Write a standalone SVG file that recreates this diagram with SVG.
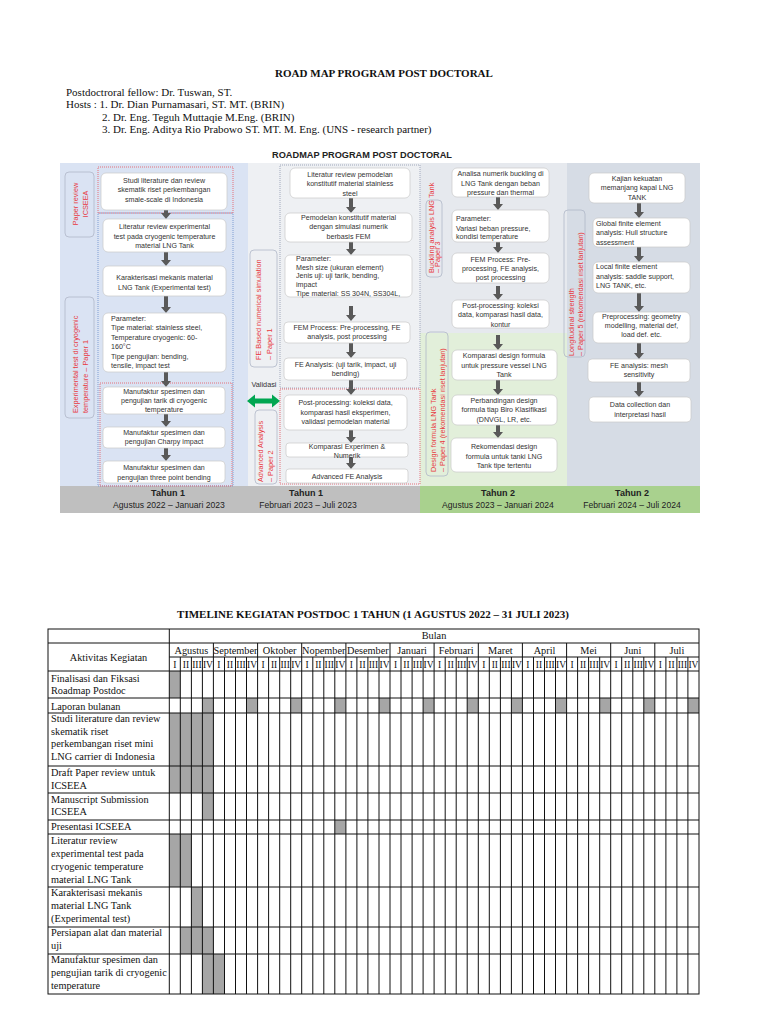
<svg xmlns="http://www.w3.org/2000/svg" width="768" height="1024" viewBox="0 0 768 1024">
<style>
.h{font-family:"Liberation Serif","Times New Roman",serif;font-size:11px;fill:#111}
.hb{font-weight:bold}
.bx{fill:#fff;stroke:#c8c8c8;stroke-width:0.7}
.t{font-family:"Liberation Sans",Arial,sans-serif;font-size:7.1px;fill:#333;text-anchor:middle}
.tl{text-anchor:start}
.lb{fill:none;stroke:#b0b8c8;stroke-width:0.8}
.lt{font-family:"Liberation Sans",Arial,sans-serif;font-size:7.3px;fill:#e8383d}
.ar{fill:#595959}
.rd{fill:none;stroke:#e4707a;stroke-width:1;stroke-dasharray:1 1}
.bd{fill:none;stroke:#7f9dd2;stroke-width:1;stroke-dasharray:1 1}
.gd{fill:none;stroke:#a0a8bc;stroke-width:1;stroke-dasharray:1 1}
.yr{font-family:"Liberation Sans",Arial,sans-serif;fill:#222;text-anchor:middle;font-size:8.6px}
.yb{font-weight:bold;font-size:9px}
.tb{font-family:"Liberation Serif","Times New Roman",serif;font-size:10.3px;fill:#111}
.wk{font-size:9.5px;text-anchor:middle}
.mc{text-anchor:middle}
.sh{fill:#a6a6a6}
.gl{stroke:#111;stroke-width:1;fill:none}
</style>

<!-- Header -->
<text class="h hb" x="384" y="77" text-anchor="middle">ROAD MAP PROGRAM POST DOCTORAL</text>
<text class="h" x="66" y="96">Postdoctroral fellow: Dr. Tuswan, ST.</text>
<text class="h" x="66" y="108">Hosts : 1. Dr. Dian Purnamasari, ST. MT. (BRIN)</text>
<text class="h" x="102" y="120.5">2. Dr. Eng. Teguh Muttaqie M.Eng. (BRIN)</text>
<text class="h" x="102" y="133">3. Dr. Eng. Aditya Rio Prabowo ST. MT. M. Eng. (UNS - research partner)</text>

<!-- Roadmap backgrounds -->
<g id="roadmap-bg">
<rect x="60" y="163" width="188" height="323" fill="#dae3f3"/>
<rect x="248" y="163" width="172" height="323" fill="#eef0f3"/>
<rect x="420" y="163" width="147" height="170" fill="#e6e9ee"/>
<rect x="420" y="333" width="147" height="153" fill="#e2efda"/>
<rect x="567" y="163" width="133" height="323" fill="#d6dce5"/>
<rect x="60" y="486" width="360" height="27" fill="#bfbfbf"/>
<rect x="420" y="486" width="280" height="27" fill="#a9d18e"/>
</g>
<text x="362" y="158" text-anchor="middle" font-family="Liberation Sans,Arial,sans-serif" font-size="9.2" font-weight="bold" fill="#222">ROADMAP PROGRAM POST DOCTORAL</text>

<!-- Group frames -->
<g id="frames">
<rect class="bd" x="98" y="213" width="135" height="273"/>
<rect class="rd" x="98" y="167" width="135" height="46"/>
<rect class="rd" x="100" y="383" width="132" height="103"/>
<rect class="gd" x="280" y="165" width="140" height="223"/>
<rect class="rd" x="280" y="389" width="140" height="95"/>
</g>

<!-- Side labels -->
<g id="lbl-paper-review"><rect class="lb" x="65" y="172" width="29" height="65" rx="4"/>
<text class="lt" text-anchor="middle" transform="translate(77.5,204) rotate(-90)"><tspan x="0" y="0">Paper review</tspan><tspan x="0" y="10">ICSEEA</tspan></text></g>
<g id="lbl-experimental"><rect class="lb" x="65" y="297" width="29" height="121" rx="4"/>
<text class="lt" transform="translate(77.5,413) rotate(-90)"><tspan x="0" y="0">Experimental test di cryogenic</tspan><tspan x="0" y="10">temperature – Paper 1</tspan></text></g>
<g id="lbl-fe-based"><rect class="lb" x="250" y="250" width="27" height="117" rx="4"/>
<text class="lt" transform="translate(260.5,360) rotate(-90)"><tspan x="0" y="0">FE Based numerical simulation</tspan><tspan x="0" y="11">– Paper 1</tspan></text></g>
<g id="lbl-advanced"><rect class="lb" x="255" y="410" width="22" height="74" rx="4"/>
<text class="lt" transform="translate(262.5,482) rotate(-90)"><tspan x="0" y="0">Advanced Analysis</tspan><tspan x="0" y="10">– Paper 2</tspan></text></g>
<g id="lbl-buckling"><rect class="lb" x="426" y="200" width="16" height="77" rx="4"/>
<text class="lt" font-size="5.6" transform="translate(433.5,273) rotate(-90)"><tspan x="0" y="0">Buckling analysis LNG Tank</tspan><tspan x="0" y="6.5">– Paper 3</tspan></text></g>
<g id="lbl-design"><rect class="lb" x="426" y="332" width="22" height="144" rx="4"/>
<text class="lt" font-size="6.8" transform="translate(435.5,472) rotate(-90)"><tspan x="0" y="0">Design formula LNG Tank</tspan><tspan x="0" y="9">– Paper 4 (rekomendasi riset lanjutan)</tspan></text></g>
<g id="lbl-longitudinal"><rect class="lb" x="564" y="210" width="21" height="147" rx="4"/>
<text class="lt" font-size="7" transform="translate(574,356) rotate(-90)"><tspan x="0" y="0">Longitudinal strength</tspan><tspan x="0" y="8.5">– Paper 5 (rekomendasi riset lanjutan)</tspan></text></g>

<!-- Connectors -->
<g id="connectors">
<path class="ar" d="M164,210H168V213H171L166,219L161,213H164Z"/>
<path class="ar" d="M164,252H168V260H171L166,266L161,260H164Z"/>
<path class="ar" d="M164,296H168V307H171L166,313L161,307H164Z"/>
<path class="ar" d="M164,372H168V381H171L166,387L161,381H164Z"/>
<path class="ar" d="M164,414H168V421H171L166,427L161,421H164Z"/>
<path class="ar" d="M164,448H168V455H171L166,461L161,455H164Z"/>
<path class="ar" d="M349,198H353V207H356L351,213L346,207H349Z"/>
<path class="ar" d="M349,242H353V249H356L351,255L346,249H349Z"/>
<path class="ar" d="M349,306H353V315H356L351,321L346,315H349Z"/>
<path class="ar" d="M349,343H353V352H356L351,358L346,352H349Z"/>
<path class="ar" d="M349,380H353V389H356L351,395L346,389H349Z"/>
<path class="ar" d="M349,430H353V437H356L351,443L346,437H349Z"/>
<path class="ar" d="M349,457H353V463H356L351,469L346,463H349Z"/>
<path class="ar" d="M496,197H500V204H503L498,210L493,204H496Z"/>
<path class="ar" d="M496,242H500V247H503L498,253L493,247H496Z"/>
<path class="ar" d="M496,286H500V294H503L498,300L493,294H496Z"/>
<path class="ar" d="M496,335H500V344H503L498,350L493,344H496Z"/>
<path class="ar" d="M496,380H500V389H503L498,395L493,389H496Z"/>
<path class="ar" d="M496,425H500V432H503L498,438L493,432H496Z"/>
<path class="ar" d="M637,203H641V212H644L639,218L634,212H637Z"/>
<path class="ar" d="M637,247H641V256H644L639,262L634,256H637Z"/>
<path class="ar" d="M637,293H641V306H644L639,312L634,306H637Z"/>
<path class="ar" d="M637,343H641V353H644L639,359L634,353H637Z"/>
<path class="ar" d="M637,382H641V391H644L639,397L634,391H637Z"/>
<path d="M247,401L255,394.5V398.5H272V394.5L280,401L272,407.5V403.5H255V407.5Z" fill="#00a651"/>
<text x="264" y="387" text-anchor="middle" font-family="Liberation Sans,Arial,sans-serif" font-size="7.3" fill="#333">Validasi</text>
</g>

<!-- Column 1 nodes -->
<g id="c1b1"><rect class="bx" x="101" y="173" width="126" height="37" rx="5"/><text class="t"><tspan x="164" y="182.5">Studi literature dan review</tspan><tspan x="164" y="192">skematik riset perkembangan</tspan><tspan x="164" y="201.5">smale-scale di Indonesia</tspan></text></g>
<g id="c1b2"><rect class="bx" x="103" y="219" width="123" height="33" rx="5"/><text class="t"><tspan x="164.5" y="229">Literatur review experimental</tspan><tspan x="164.5" y="238.5">test pada cryogenic temperature</tspan><tspan x="164.5" y="248">material LNG Tank</tspan></text></g>
<g id="c1b3"><rect class="bx" x="103" y="266" width="123" height="30" rx="5"/><text class="t"><tspan x="164.5" y="280">Karakterisasi mekanis material</tspan><tspan x="164.5" y="289.5">LNG Tank (Experimental test)</tspan></text></g>
<g id="c1b4"><rect class="bx" x="103" y="313" width="123" height="59" rx="5"/><text class="t tl"><tspan x="111" y="320.5">Parameter:</tspan><tspan x="111" y="330">Tipe material: stainless steel,</tspan><tspan x="111" y="339.5">Temperature cryogenic: 60-</tspan><tspan x="111" y="349">160°C</tspan><tspan x="111" y="358.5">Tipe pengujian: bending,</tspan><tspan x="111" y="368">tensile, impact test</tspan></text></g>
<g id="c1b5"><rect class="bx" x="103" y="387" width="122" height="27" rx="4"/><text class="t"><tspan x="164" y="394">Manufaktur spesimen dan</tspan><tspan x="164" y="403">pengujian tarik di cryogenic</tspan><tspan x="164" y="412">temperature</tspan></text></g>
<g id="c1b6"><rect class="bx" x="103" y="427" width="122" height="21" rx="4"/><text class="t"><tspan x="164" y="434.5">Manufaktur spesimen dan</tspan><tspan x="164" y="444">pengujian Charpy impact</tspan></text></g>
<g id="c1b7"><rect class="bx" x="103" y="461" width="122" height="22" rx="4"/><text class="t"><tspan x="164" y="470">Manufaktur spesimen dan</tspan><tspan x="164" y="479.5">pengujian three point bending</tspan></text></g>

<!-- Column 2 nodes -->
<g id="c2b1"><rect class="bx" x="290" y="168" width="120" height="30" rx="5"/><text class="t"><tspan x="350" y="176.5">Literatur review pemodelan</tspan><tspan x="350" y="186">konstitutif material stainless</tspan><tspan x="350" y="195.5">steel</tspan></text></g>
<g id="c2b2"><rect class="bx" x="285" y="213" width="127" height="29" rx="5"/><text class="t"><tspan x="348.5" y="219.5">Pemodelan konstitutif material</tspan><tspan x="348.5" y="229">dengan simulasi numerik</tspan><tspan x="348.5" y="238.5">berbasis FEM</tspan></text></g>
<g id="c2b3"><rect class="bx" x="285" y="255" width="127" height="42" rx="5"/><text class="t tl"><tspan x="296" y="261">Parameter:</tspan><tspan x="296" y="269.5">Mesh size (ukuran element)</tspan><tspan x="296" y="278">Jenis uji: uji tarik, bending,</tspan><tspan x="296" y="287">impact</tspan><tspan x="296" y="295.5">Tipe material: SS 304N, SS304L,</tspan></text></g>
<g id="c2b4"><rect class="bx" x="284" y="322" width="126" height="21" rx="4"/><text class="t"><tspan x="347" y="329.5">FEM Process: Pre-processing, FE</tspan><tspan x="347" y="339">analysis, post processing</tspan></text></g>
<g id="c2b5"><rect class="bx" x="284" y="358" width="123" height="22" rx="4"/><text class="t"><tspan x="345.5" y="367">FE Analysis: (uji tarik, impact, uji</tspan><tspan x="345.5" y="376">bending)</tspan></text></g>
<g id="c2b6"><rect class="bx" x="284" y="395" width="123" height="35" rx="5"/><text class="t"><tspan x="345.5" y="405">Post-processing: koleksi data,</tspan><tspan x="345.5" y="414.5">komparasi hasil eksperimen,</tspan><tspan x="345.5" y="424">validasi pemodelan material</tspan></text></g>
<g id="c2b7"><rect class="bx" x="286" y="443" width="122" height="14" rx="3"/><text class="t"><tspan x="347" y="448.5">Komparasi Experimen &amp;</tspan><tspan x="347" y="457.5">Numerik</tspan></text></g>
<g id="c2b8"><rect class="bx" x="286" y="469" width="122" height="14" rx="3"/><text class="t" x="347" y="479">Advanced FE Analysis</text></g>

<!-- Column 3 nodes -->
<g id="c3b1"><rect class="bx" x="452" y="168" width="97" height="29" rx="5"/><text class="t"><tspan x="500.5" y="175.5">Analisa numerik buckling di</tspan><tspan x="500.5" y="185.5">LNG Tank dengan beban</tspan><tspan x="500.5" y="195">pressure dan thermal</tspan></text></g>
<g id="c3b2"><rect class="bx" x="452" y="210" width="97" height="32" rx="5"/><text class="t tl"><tspan x="456" y="221">Parameter:</tspan><tspan x="456" y="230.5">Variasi beban pressure,</tspan><tspan x="456" y="239">kondisi temperature</tspan></text></g>
<g id="c3b3"><rect class="bx" x="452" y="253" width="97" height="30" rx="5"/><text class="t"><tspan x="500.5" y="261.5">FEM Process: Pre-</tspan><tspan x="500.5" y="270.5">processing, FE analysis,</tspan><tspan x="500.5" y="280">post processing</tspan></text></g>
<g id="c3b4"><rect class="bx" x="452" y="300" width="97" height="28" rx="5"/><text class="t"><tspan x="500.5" y="307.5">Post-processing: koleksi</tspan><tspan x="500.5" y="317">data, komparasi hasil data,</tspan><tspan x="500.5" y="326.5">kontur</tspan></text></g>
<g id="c3b5"><rect class="bx" x="452" y="350" width="105" height="30" rx="5"/><text class="t"><tspan x="504" y="358">Komparasi design formula</tspan><tspan x="504" y="367.5">untuk pressure vessel LNG</tspan><tspan x="504" y="377">Tank</tspan></text></g>
<g id="c3b6"><rect class="bx" x="452" y="395" width="105" height="30" rx="5"/><text class="t"><tspan x="504" y="402.5">Perbandingan design</tspan><tspan x="504" y="412">formula tiap Biro Klasifikasi</tspan><tspan x="504" y="421.5">(DNVGL, LR, etc.</tspan></text></g>
<g id="c3b7"><rect class="bx" x="451" y="438" width="106" height="34" rx="5"/><text class="t"><tspan x="504" y="449">Rekomendasi design</tspan><tspan x="504" y="458.5">formula untuk tanki LNG</tspan><tspan x="504" y="468">Tank tipe tertentu</tspan></text></g>

<!-- Column 4 nodes -->
<g id="c4b1"><rect class="bx" x="589" y="173" width="96" height="30" rx="5"/><text class="t"><tspan x="637" y="180.5">Kajian kekuatan</tspan><tspan x="637" y="190">memanjang kapal LNG</tspan><tspan x="637" y="199.5">TANK</tspan></text></g>
<g id="c4b2"><rect class="bx" x="593" y="218" width="97" height="29" rx="5"/><text class="t tl"><tspan x="596" y="225.5">Global finite element</tspan><tspan x="596" y="235">analysis: Hull structure</tspan><tspan x="596" y="244.5">assessment</tspan></text></g>
<g id="c4b3"><rect class="bx" x="593" y="262" width="97" height="31" rx="5"/><text class="t tl"><tspan x="596" y="269">Local finite element</tspan><tspan x="596" y="278.5">analysis: saddle support,</tspan><tspan x="596" y="287.5">LNG TANK, etc.</tspan></text></g>
<g id="c4b4"><rect class="bx" x="593" y="312" width="97" height="31" rx="5"/><text class="t"><tspan x="641.5" y="318.5">Preprocessing: geometry</tspan><tspan x="641.5" y="327.5">modelling, material def,</tspan><tspan x="641.5" y="336.5">load def. etc.</tspan></text></g>
<g id="c4b5"><rect class="bx" x="588" y="359" width="102" height="23" rx="4"/><text class="t"><tspan x="639" y="367.5">FE analysis: mesh</tspan><tspan x="639" y="376.5">sensitivity</tspan></text></g>
<g id="c4b6"><rect class="bx" x="589" y="397" width="102" height="25" rx="4"/><text class="t"><tspan x="640" y="406.5">Data collection dan</tspan><tspan x="640" y="416.5">interpretasi hasil</tspan></text></g>

<!-- Period bar -->
<g id="periods">
<text class="yr yb" x="168" y="495.5">Tahun 1</text><text class="yr" x="169" y="507.5">Agustus 2022 – Januari 2023</text>
<text class="yr yb" x="306" y="495.5">Tahun 1</text><text class="yr" x="308" y="507.5">Februari 2023 – Juli 2023</text>
<text class="yr yb" x="498" y="495.5">Tahun 2</text><text class="yr" x="498" y="507.5">Agustus 2023 – Januari 2024</text>
<text class="yr yb" x="632" y="495.5">Tahun 2</text><text class="yr" x="632" y="507.5">Februari 2024 – Juli 2024</text>
</g>

<!-- Timeline table -->
<text class="h hb" x="373" y="618" text-anchor="middle" font-size="10.2">TIMELINE KEGIATAN POSTDOC 1 TAHUN (1 AGUSTUS 2022 – 31 JULI 2023)</text>
<g id="shading">
<rect class="sh" x="169.3" y="671" width="11" height="27"/>
<rect class="sh" x="202.4" y="698" width="11" height="15"/>
<rect class="sh" x="246.5" y="698" width="11" height="15"/>
<rect class="sh" x="290.7" y="698" width="11" height="15"/>
<rect class="sh" x="334.8" y="698" width="11" height="15"/>
<rect class="sh" x="379" y="698" width="11" height="15"/>
<rect class="sh" x="423.1" y="698" width="11" height="15"/>
<rect class="sh" x="467.2" y="698" width="11" height="15"/>
<rect class="sh" x="511.4" y="698" width="11" height="15"/>
<rect class="sh" x="555.5" y="698" width="11" height="15"/>
<rect class="sh" x="599.7" y="698" width="11" height="15"/>
<rect class="sh" x="643.8" y="698" width="11" height="15"/>
<rect class="sh" x="687.9" y="698" width="11.1" height="15"/>
<rect class="sh" x="169.3" y="713" width="44.1" height="53"/>
<rect class="sh" x="169.3" y="766" width="44.1" height="27"/>
<rect class="sh" x="202.4" y="793" width="11" height="27"/>
<rect class="sh" x="334.8" y="820" width="11" height="14"/>
<rect class="sh" x="169.3" y="834" width="22.1" height="53"/>
<rect class="sh" x="191.4" y="887" width="11" height="40"/>
<rect class="sh" x="180.3" y="927" width="33.1" height="27"/>
<rect class="sh" x="202.4" y="954" width="22.1" height="40"/>
</g>
<g id="grid">
<rect class="gl" x="48" y="629" width="651" height="365"/>
<path class="gl" d="M169.3 629V994M48 643H699M169.3 657H699M48 671H699M48 698H699M48 713H699M48 766H699M48 793H699M48 820H699M48 834H699M48 887H699M48 927H699M48 954H699"/>
<path class="gl" d="M213.4 643V657M257.6 643V657M301.7 643V657M345.9 643V657M390 643V657M434.1 643V657M478.3 643V657M522.4 643V657M566.6 643V657M610.7 643V657M654.8 643V657"/>
<path class="gl" d="M180.3 657V994M191.4 657V994M202.4 657V994M213.4 657V994M224.5 657V994M235.5 657V994M246.5 657V994M257.6 657V994M268.6 657V994M279.7 657V994M290.7 657V994M301.7 657V994M312.8 657V994M323.8 657V994M334.8 657V994M345.9 657V994M356.9 657V994M367.9 657V994M379 657V994M390 657V994M401 657V994M412.1 657V994M423.1 657V994M434.1 657V994M445.2 657V994M456.2 657V994M467.2 657V994M478.3 657V994M489.3 657V994M500.4 657V994M511.4 657V994M522.4 657V994M533.5 657V994M544.5 657V994M555.5 657V994M566.6 657V994M577.6 657V994M588.6 657V994M599.7 657V994M610.7 657V994M621.7 657V994M632.8 657V994M643.8 657V994M654.8 657V994M665.9 657V994M676.9 657V994M687.9 657V994"/>
</g>
<g id="table-head">
<text class="tb mc" x="434" y="639">Bulan</text>
<text class="tb mc" x="108.5" y="661">Aktivitas Kegiatan</text>
<text class="tb mc" y="654"><tspan x="191.4">Agustus</tspan><tspan x="235.5">September</tspan><tspan x="279.7">Oktober</tspan><tspan x="323.8">Nopember</tspan><tspan x="367.9">Desember</tspan><tspan x="412.1">Januari</tspan><tspan x="456.2">Februari</tspan><tspan x="500.4">Maret</tspan><tspan x="544.5">April</tspan><tspan x="588.6">Mei</tspan><tspan x="632.8">Juni</tspan><tspan x="676.9">Juli</tspan></text>
<text class="tb wk" y="667.5"><tspan x="174.8">I</tspan><tspan x="185.9">II</tspan><tspan x="196.9">III</tspan><tspan x="207.9">IV</tspan><tspan x="218.9">I</tspan><tspan x="230">II</tspan><tspan x="241">III</tspan><tspan x="252.1">IV</tspan><tspan x="263.1">I</tspan><tspan x="274.1">II</tspan><tspan x="285.2">III</tspan><tspan x="296.2">IV</tspan><tspan x="307.2">I</tspan><tspan x="318.3">II</tspan><tspan x="329.3">III</tspan><tspan x="340.3">IV</tspan><tspan x="351.4">I</tspan><tspan x="362.4">II</tspan><tspan x="373.4">III</tspan><tspan x="384.5">IV</tspan><tspan x="395.5">I</tspan><tspan x="406.5">II</tspan><tspan x="417.6">III</tspan><tspan x="428.6">IV</tspan><tspan x="439.6">I</tspan><tspan x="450.7">II</tspan><tspan x="461.7">III</tspan><tspan x="472.7">IV</tspan><tspan x="483.8">I</tspan><tspan x="494.8">II</tspan><tspan x="505.9">III</tspan><tspan x="516.9">IV</tspan><tspan x="527.9">I</tspan><tspan x="539">II</tspan><tspan x="550">III</tspan><tspan x="561">IV</tspan><tspan x="572.1">I</tspan><tspan x="583.1">II</tspan><tspan x="594.1">III</tspan><tspan x="605.2">IV</tspan><tspan x="616.2">I</tspan><tspan x="627.2">II</tspan><tspan x="638.3">III</tspan><tspan x="649.3">IV</tspan><tspan x="660.3">I</tspan><tspan x="671.4">II</tspan><tspan x="682.4">III</tspan><tspan x="693.4">IV</tspan></text>
</g>
<g id="table-rows">
<text class="tb"><tspan x="51" y="681.5">Finalisasi dan Fiksasi</tspan><tspan x="51" y="694">Roadmap Postdoc</tspan></text>
<text class="tb" x="51" y="709.5">Laporan bulanan</text>
<text class="tb"><tspan x="51" y="721.5">Studi literature dan review</tspan><tspan x="51" y="734.5">skematik riset</tspan><tspan x="51" y="747">perkembangan riset mini</tspan><tspan x="51" y="760">LNG carrier di Indonesia</tspan></text>
<text class="tb"><tspan x="51" y="776">Draft Paper review untuk</tspan><tspan x="51" y="788.5">ICSEEA</tspan></text>
<text class="tb"><tspan x="51" y="802.5">Manuscript Submission</tspan><tspan x="51" y="815">ICSEEA</tspan></text>
<text class="tb" x="51" y="829.5">Presentasi ICSEEA</text>
<text class="tb"><tspan x="51" y="844">Literatur review</tspan><tspan x="51" y="857">experimental test pada</tspan><tspan x="51" y="870">cryogenic temperature</tspan><tspan x="51" y="883">material LNG Tank</tspan></text>
<text class="tb"><tspan x="51" y="896">Karakterisasi mekanis</tspan><tspan x="51" y="909">material LNG Tank</tspan><tspan x="51" y="922">(Experimental test)</tspan></text>
<text class="tb"><tspan x="51" y="936">Persiapan alat dan material</tspan><tspan x="51" y="948.5">uji</tspan></text>
<text class="tb"><tspan x="51" y="962.5">Manufaktur spesimen dan</tspan><tspan x="51" y="975.5">pengujian tarik di cryogenic</tspan><tspan x="51" y="989">temperature</tspan></text>
</g>
</svg>
